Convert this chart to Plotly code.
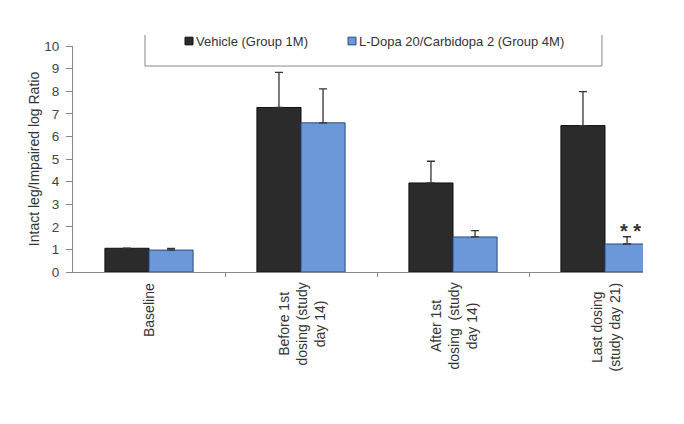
import plotly.graph_objects as go

categories = ["Baseline", "Before 1st<br>dosing (study<br>day 14)", "After 1st<br>dosing  (study<br>day 14)", "Last dosing<br>(study day 21)"]
series_names = ["Vehicle (Group 1M)", "L-Dopa 20/Carbidopa 2 (Group 4M)"]
vehicle = [1.05, 7.28, 3.94, 6.48]
vehicle_err = [0.0, 1.55, 0.96, 1.5]
ldopa = [0.97, 6.6, 1.55, 1.24]
ldopa_err = [0.07, 1.5, 0.28, 0.32]
y_ticks = list(range(0, 11))

xpos = list(range(len(categories)))
colors = ["#2b2b2b", "#6a98d8"]
line_colors = ["#111111", "#2a4a80"]
FONT = "Liberation Sans, Arial"

fig = go.Figure()
for name, vals, errs, c, lc in zip(series_names, [vehicle, ldopa], [vehicle_err, ldopa_err], colors, line_colors):
    fig.add_trace(go.Bar(
        x=xpos, y=vals, name=name, showlegend=False,
        marker=dict(color=c, line=dict(color=lc, width=1)),
        error_y=dict(type="data", symmetric=False, array=errs, arrayminus=[0]*len(errs),
                     color="#333333", thickness=1.3, width=4),
    ))

# category labels (rotated, centered lines)
for i, lab in enumerate(categories):
    fig.add_annotation(x=i, y=0, xref="x", yref="paper", text=lab, textangle=-90,
                       showarrow=False, xanchor="center", yanchor="top", yshift=-9, align="center",
                       font=dict(family=FONT, size=14, color="#333333"))

# significance stars
fig.add_annotation(x=3, y=ldopa[3] + ldopa_err[3], xref="x", yref="y", text="<b>* *</b>", showarrow=False,
                   xanchor="center", yanchor="bottom", xshift=25, yshift=-7,
                   font=dict(family=FONT, size=20, color="#333333"))

# manual legend with bracket box
fig.add_shape(type="path", xref="paper", yref="paper",
              path="M 0.1263 1.049 L 0.1263 0.9115 L 0.928 0.9115 L 0.928 1.049",
              line=dict(color="#888888", width=1))
leg_x = [0.2035, 0.4895]
for name, c, lc, lx in zip(series_names, colors, line_colors, leg_x):
    fig.add_shape(type="rect", xref="paper", yref="paper",
                  x0=lx - 0.007, x1=lx + 0.007, y0=1.005, y1=1.039,
                  fillcolor=c, line=dict(color=lc, width=1))
    fig.add_annotation(x=lx + 0.0115, y=1.022, xref="paper", yref="paper", text=name, showarrow=False,
                       xanchor="left", yanchor="middle", xshift=-2,
                       font=dict(family=FONT, size=13, color="#333333"))

fig.update_layout(
    width=684, height=424, autosize=False,
    margin=dict(l=73, r=41, t=46, b=152),
    paper_bgcolor="white", plot_bgcolor="white",
    barmode="group", bargap=0.42, bargroupgap=0,
    font=dict(family=FONT, size=13, color="#333333"),
    xaxis=dict(range=[-0.5, 3.25], tickvals=[0.5, 1.5, 2.5], ticktext=["", "", ""],
               ticks="outside", ticklen=4, tickcolor="#888888",
               showline=True, linecolor="#888888", linewidth=1, showgrid=False, zeroline=False),
    yaxis=dict(range=[0, 10], tickvals=y_ticks, ticks="outside", ticklen=6, tickcolor="#888888",
               showline=True, linecolor="#888888", linewidth=1, showgrid=False, zeroline=False,
               tickfont=dict(size=13.5, color="#444444"), ticklabelstandoff=4,
               title=dict(text="Intact leg/Impaired log Ratio", standoff=1,
                          font=dict(size=14, color="#333333"))),
)

fig.write_html("out.html")
